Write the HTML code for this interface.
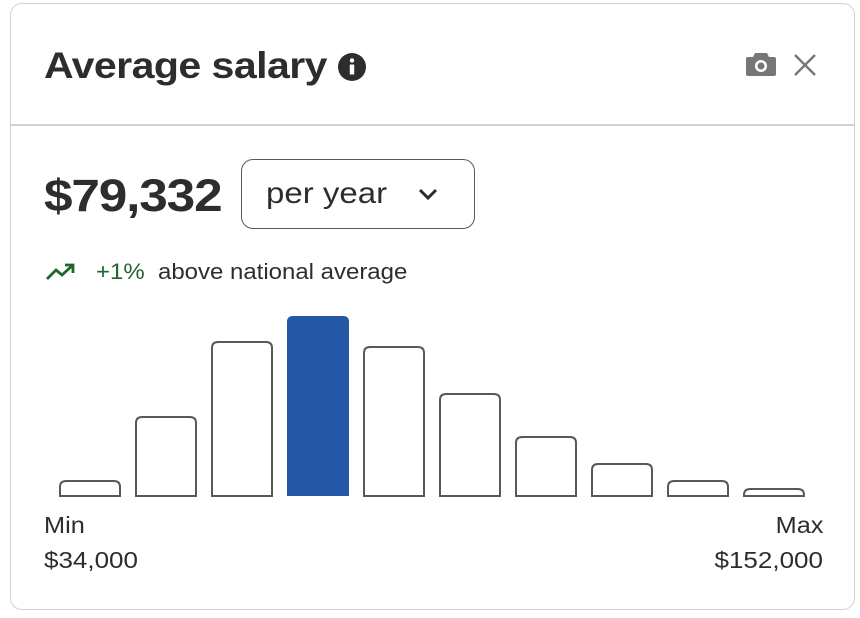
<!DOCTYPE html>
<html><head><meta charset="utf-8"><style>
body{margin:0;width:860px;height:618px;background:#fff;font-family:"Liberation Sans",sans-serif;color:#2d2d2d;position:relative;overflow:hidden}
.card{position:absolute;left:10px;top:3px;width:843px;height:605px;border:1.5px solid #d4d2d0;border-radius:12px}
.abs{position:absolute;white-space:nowrap}
.sx{transform-origin:left center}
.sxr{transform-origin:right center}
</style></head><body>
<div class="card"></div>
<div class="abs sx" style="left:44px;top:45px;font-size:37px;font-weight:bold;letter-spacing:-0.5px;transform:scaleX(1.11)">Average salary</div>
<svg class="abs" style="left:337px;top:52px" width="30" height="30"><circle cx="15" cy="15" r="14" fill="#2d2d2d"/><circle cx="15" cy="8.5" r="2.2" fill="#fff"/><rect x="12.8" y="12.5" width="4.4" height="10" fill="#fff"/></svg>
<svg class="abs" style="left:745px;top:50px" width="32" height="28"><path d="M10 3h12l2 4h5a2 2 0 0 1 2 2v15a2 2 0 0 1-2 2H3a2 2 0 0 1-2-2V9a2 2 0 0 1 2-2h5z" fill="#767676"/><circle cx="16" cy="16" r="6" fill="#fff"/><circle cx="16" cy="16" r="3.5" fill="#767676"/></svg>
<svg class="abs" style="left:793px;top:53px" width="24" height="24"><path d="M2 2L22 22M22 2L2 22" stroke="#767676" stroke-width="2.4"/></svg>
<div class="abs" style="left:11px;top:124px;width:843px;height:2px;background:#d4d2d0"></div>
<div class="abs sx" style="left:44px;top:170px;font-size:45px;font-weight:bold;letter-spacing:-1px;transform:scaleX(1.14)">$79,332</div>
<div class="abs" style="left:241px;top:159px;width:232px;height:68px;border:1.5px solid #595959;border-radius:12px">
<span class="abs sx" style="left:24px;top:17px;font-size:30px;transform:scaleX(1.1)">per year</span>
<svg class="abs" style="left:176px;top:28px" width="20" height="14"><path d="M2 2L10 10L18 2" fill="none" stroke="#2d2d2d" stroke-width="3"/></svg>
</div>
<svg class="abs" style="left:45px;top:262px" width="32" height="20"><path d="M2 17L11 8L17 13L28 3M20 3H28V11" fill="none" stroke="#1f662c" stroke-width="2.8"/></svg>
<div class="abs sx" style="left:96px;top:259px;font-size:22px;transform:scaleX(1.09)"><span style="color:#1f662c">+1%</span>&nbsp; above national average</div>
<svg id="chart" class="abs" style="left:0;top:0" width="860" height="618"></svg>
<div class="abs sx" style="left:44px;top:512px;font-size:23px;transform:scaleX(1.1)">Min</div>
<div class="abs sx" style="left:44px;top:547px;font-size:23px;transform:scaleX(1.13)">$34,000</div>
<div class="abs sxr" style="right:37px;top:512px;font-size:23px;transform:scaleX(1.1)">Max</div>
<div class="abs sxr" style="right:37px;top:547px;font-size:23px;transform:scaleX(1.13)">$152,000</div>
<script>
const bins=[1,2,3,4,5,6,7,8,9,10];
const counts=[16,80,155,180,150,103,60,33,16,8];
const highlightIndex=3;
const svg=document.getElementById('chart');
const ns='http://www.w3.org/2000/svg';
const maxV=Math.max(...counts);
const base=496, plotH=180, x0=59, step=76, bw=62;
function yScale(v){return base-v/maxV*plotH;}
function xScale(i){return x0+i*step;}
counts.forEach((v,i)=>{
  const x=xScale(i), y=yScale(v), h=base-y, r=Math.min(6,h);
  const p=document.createElementNS(ns,'path');
  
  
  if(i===highlightIndex){
    p.setAttribute('d',`M${x} ${base}V${y+r}Q${x} ${y} ${x+r} ${y}H${x+bw-r}Q${x+bw} ${y} ${x+bw} ${y+r}V${base}Z`);
    p.setAttribute('fill','#2557a7');
  } else {
    const a=x+1,b=x+bw-1,t=y+1;
    p.setAttribute('d',`M${a} ${base}V${t+r}Q${a} ${t} ${a+r} ${t}H${b-r}Q${b} ${t} ${b} ${t+r}V${base}Z`);
    p.setAttribute('fill','#fff');p.setAttribute('stroke','#595959');p.setAttribute('stroke-width','2');
  }
  svg.appendChild(p);
});
</script>
</body></html>
